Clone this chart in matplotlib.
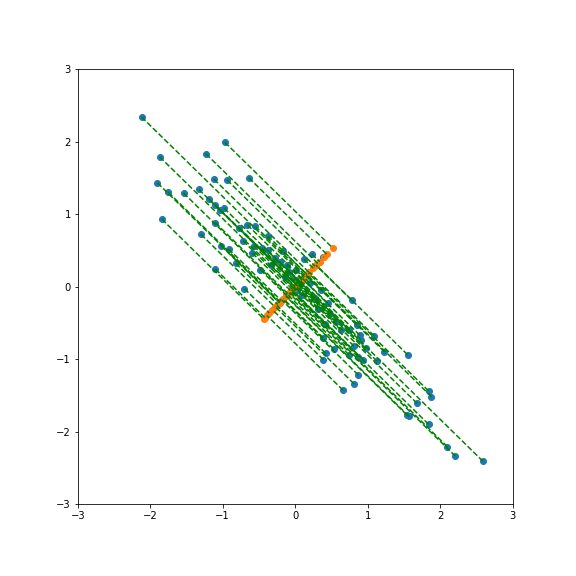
import numpy as np
import matplotlib
matplotlib.use("Agg")
import matplotlib.pyplot as plt

xs = [-2.12, -1.87, -1.90, -1.75, -1.84, -1.54, -1.33, -1.23, -0.97, -1.12, -0.94, -0.64,
      -1.19, -1.10, -1.04, -0.98, -1.10, -1.30, -1.02, -0.92, -1.10, -0.82, -0.70, -0.77,
      -0.66, -0.55, -0.72, -0.57, -0.46, -0.59, -0.48, -0.38, -0.38, -0.28, -0.34, -0.17,
      -0.21, -0.12, -0.08, -0.14, 0.01, 0.12, 0.23, 0.39, 0.09, 0.20, 0.01, 0.10, 0.27,
      0.35, 0.45, 0.31, 0.48, 0.56, 0.41, 0.63, 0.39, 0.42, 0.39, 0.53, 0.78, 0.74, 0.85,
      0.89, 0.91, 0.81, 0.97, 0.87, 0.94, 0.74, 0.66, 0.81, 0.87, 1.13, 1.23, 1.09, 1.55,
      1.54, 1.68, 1.84, 1.88, 1.84, 2.10, 2.21, 2.59, 1.57, 0.01]
ys = [2.34, 1.79, 1.43, 1.30, 0.93, 1.29, 1.34, 1.83, 1.99, 1.48, 1.47, 1.50,
      1.21, 1.12, 1.06, 1.08, 0.88, 0.72, 0.56, 0.52, 0.24, 0.32, -0.03, 0.81,
      0.85, 0.83, 0.63, 0.56, 0.53, 0.46, 0.23, 0.70, 0.50, 0.39, 0.30, 0.49,
      0.34, 0.30, 0.20, 0.13, 0.23, 0.38, 0.45, 0.41, 0.08, 0.05, -0.06, -0.12, -0.16,
      -0.05, -0.23, -0.31, -0.38, -0.49, -0.52, -0.60, -0.71, -0.92, -1.01, -0.86, -0.19, -0.60, -0.53,
      -0.67, -0.74, -0.82, -0.85, -0.97, -1.01, -0.94, -1.43, -1.34, -1.22, -1.03, -0.90, -0.68, -0.94,
      -1.77, -1.61, -1.44, -1.52, -1.90, -2.21, -2.34, -2.41, -1.79, 0.09]
component = [0.70, 0.714]

X = np.column_stack([xs, ys])
d = np.array(component) / np.linalg.norm(component)
P = np.outer(X @ d, d)

fig = plt.figure(figsize=(8, 8), dpi=72)
ax = fig.add_axes([0.135, 0.125, 0.755, 0.755])
ax.scatter(X[:, 0], X[:, 1])
ax.scatter(P[:, 0], P[:, 1])
for (x0, y0), (x1, y1) in zip(X, P):
    ax.plot([x0, x1], [y0, y1], 'g--')
ax.set_xlim(-3, 3)
ax.set_ylim(-3, 3)
fig.savefig("out.png")
